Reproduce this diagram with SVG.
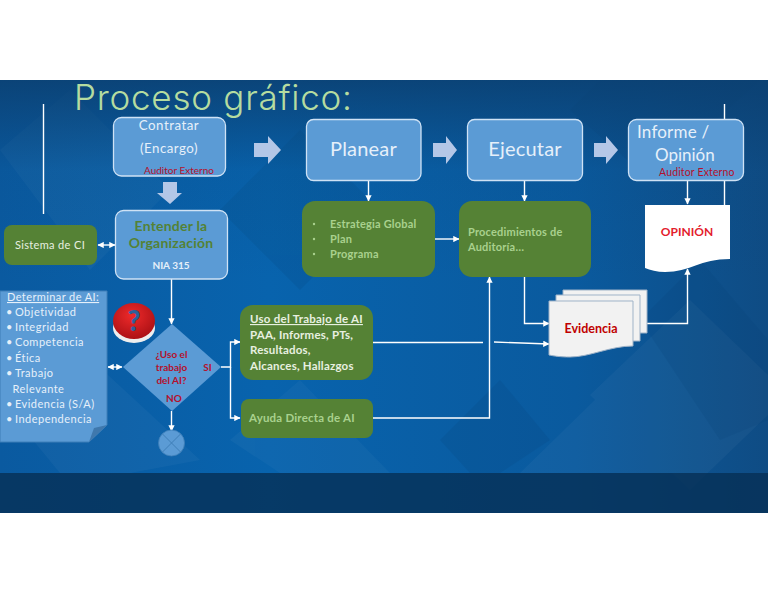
<svg xmlns="http://www.w3.org/2000/svg" width="768" height="594" viewBox="0 0 768 594">
<style>
text{font-family:Lato,"Open Sans","Liberation Sans",sans-serif}
.blue{fill:#5b9bd5;stroke:#cfe2f5;stroke-width:1.3}
.green{fill:#558235}
.ln{fill:none;stroke:#fff;stroke-width:1.4}
.lg{fill:#a9d18e;font-weight:700;letter-spacing:.2px}
.red{fill:#b5102c}
.arr{fill:#b4c7e7}
.wb{fill:#e8f0e0;font-weight:700;font-size:11.5px;letter-spacing:.2px}
.sm{fill:#e6f0fa;font-size:13.3px;letter-spacing:.5px}
</style>
<defs>
<linearGradient id="bg" x1="0" y1="0" x2="1" y2="0">
<stop offset="0" stop-color="#0a5aa0"/><stop offset=".35" stop-color="#0863ad"/><stop offset=".75" stop-color="#0a5a9e"/><stop offset="1" stop-color="#0f4c84"/>
</linearGradient>
<linearGradient id="top" x1="0" y1="0" x2="0" y2="1">
<stop offset="0" stop-color="#0b3f70" stop-opacity=".85"/><stop offset=".45" stop-color="#0b3f70" stop-opacity=".1"/><stop offset="1" stop-color="#0b3f70" stop-opacity="0"/>
</linearGradient>
<radialGradient id="btn" cx=".45" cy=".35" r=".7"><stop offset="0" stop-color="#ee2a2a"/><stop offset="1" stop-color="#a80f14"/></radialGradient>
<marker id="a" viewBox="0 0 6 6" refX="5.5" refY="3" markerWidth="4.5" markerHeight="4.5" orient="auto-start-reverse"><path d="M0 0L6 3L0 6z" fill="#fff"/></marker>
</defs>
<rect width="768" height="594" fill="#fff"/>
<rect y="80" width="768" height="433" fill="url(#bg)"/>
<g fill="#fff" opacity=".03">
<polygon points="590,395 690,300 768,375 768,415 690,490"/>
<polygon points="0,400 70,340 200,460 130,473 60,473"/>
<polygon points="230,440 300,380 390,473 280,473"/>
<polygon points="520,473 600,395 680,473"/>
<polygon points="0,150 70,90 170,190 90,270"/>
</g>
<g fill="#063d72" opacity=".14">
<polygon points="570,110 650,180 760,80 600,80"/>
<polygon points="300,130 380,210 300,290 220,210"/>
<polygon points="640,320 700,260 768,340 768,420 720,440"/>
<polygon points="440,440 500,380 550,440 500,473 470,473"/>
</g>
<rect y="80" width="768" height="200" fill="url(#top)"/>
<rect y="473" width="768" height="40" fill="#062f55" opacity=".8"/>
<text id="title" x="74" y="110" font-size="35" fill="#b5dca0" style="font-family:Inter,Lato,sans-serif;font-weight:300" textLength="278" lengthAdjust="spacing">Proceso gráfico:</text>

<g id="connectors">
<line class="ln" x1="43.500" y1="104" x2="43.500" y2="214" stroke-width="2"/>
<line class="ln" x1="724.500" y1="104" x2="724.500" y2="119"/>
<line class="ln" x1="724.500" y1="180" x2="724.500" y2="205"/>
<line class="ln" x1="98" y1="245" x2="115" y2="245" marker-start="url(#a)" marker-end="url(#a)"/>
<line class="ln" x1="171.500" y1="279" x2="171.500" y2="324" marker-end="url(#a)"/>
<line class="ln" x1="108" y1="367" x2="122" y2="367" marker-start="url(#a)" marker-end="url(#a)"/>
<line class="ln" x1="171.500" y1="411" x2="171.500" y2="431" marker-end="url(#a)"/>
<path class="ln" d="M221 367H230.500V342H240" marker-end="url(#a)"/>
<path class="ln" d="M230.500 367V418H240" marker-end="url(#a)"/>
<line class="ln" x1="368.500" y1="180" x2="368.500" y2="201" marker-end="url(#a)"/>
<line class="ln" x1="524.500" y1="180" x2="524.500" y2="201" marker-end="url(#a)"/>
<line class="ln" x1="687.500" y1="180" x2="687.500" y2="204" marker-end="url(#a)"/>
<line class="ln" x1="435" y1="239" x2="459" y2="239" marker-end="url(#a)"/>
<path class="ln" d="M373 342.500H483" stroke-width="1"/>
<path class="ln" d="M494 342L549 344" marker-end="url(#a)"/>
<path class="ln" d="M373 418H489.500V277" marker-end="url(#a)"/>
<path class="ln" d="M524.500 277V323.500H549" marker-end="url(#a)"/>
<path class="ln" d="M647 323.500H687.500V269" marker-end="url(#a)"/>
</g>

<g id="flow-arrows" class="arr">
<polygon points="254,143 268,143 268,136 281,150 268,164 268,157 254,157"/>
<polygon points="433,143 446,143 446,136 457,150 446,164 446,157 433,157"/>
<polygon points="594,143 606,143 606,136 618,150 606,164 606,157 594,157"/>
<polygon points="163,182 177,182 177,193 182,193 170,204 157,193 163,193"/>
</g>

<g id="contratar">
<rect class="blue" x="113.500" y="117.500" width="112" height="58.500" rx="8"/>
<text class="sm" x="169" y="130" text-anchor="middle">Contratar</text>
<text class="sm" x="169" y="153" text-anchor="middle">(Encargo)</text>
<text class="red" x="179" y="174" text-anchor="middle" font-size="10">Auditor Externo</text>
</g>
<g id="planear">
<rect class="blue" x="306.500" y="119.500" width="114.500" height="61" rx="7"/>
<text x="363.500" y="156" text-anchor="middle" font-size="20" fill="#e6f0fa" letter-spacing=".2">Planear</text>
</g>
<g id="ejecutar">
<rect class="blue" x="467.500" y="119.500" width="115" height="61" rx="7"/>
<text x="525" y="156" text-anchor="middle" font-size="20" fill="#e6f0fa" letter-spacing=".2">Ejecutar</text>
</g>
<g id="informe">
<rect class="blue" x="628.500" y="119.500" width="115" height="61" rx="8"/>
<text x="637" y="138" font-size="17" fill="#e6f0fa" letter-spacing=".2">Informe /</text>
<text x="655" y="161" font-size="17" fill="#e6f0fa">Opinión</text>
<text class="red" x="659" y="176" font-size="10.500" letter-spacing=".15">Auditor Externo</text>
</g>
<g id="entender">
<rect class="blue" x="115.500" y="210.500" width="112" height="68.500" rx="8"/>
<text x="171" y="231" text-anchor="middle" font-size="14" font-weight="700" fill="#548235" letter-spacing=".2">Entender la</text>
<text x="171" y="248" text-anchor="middle" font-size="14" font-weight="700" fill="#548235" letter-spacing=".2">Organización</text>
<text x="171" y="269" text-anchor="middle" font-size="10" font-weight="700" fill="#e6f0fa">NIA 315</text>
</g>
<g id="sistema">
<rect class="green" x="4" y="225" width="93" height="40" rx="8"/>
<text x="50" y="249" text-anchor="middle" font-size="11" fill="#e8f0e0" letter-spacing=".35">Sistema de CI</text>
</g>
<g id="estrategia">
<rect class="green" x="302" y="201" width="133" height="76" rx="13"/>
<circle cx="314" cy="224" r="1.200" fill="#a9d18e"/><circle cx="314" cy="239" r="1.200" fill="#a9d18e"/><circle cx="314" cy="254" r="1.200" fill="#a9d18e"/>
<text class="lg" x="330" y="228" font-size="11">Estrategia Global</text>
<text class="lg" x="330" y="243" font-size="11">Plan</text>
<text class="lg" x="330" y="258" font-size="11">Programa</text>
</g>
<g id="procedimientos">
<rect class="green" x="459" y="201" width="132" height="76" rx="13"/>
<text class="lg" x="468" y="236" font-size="11">Procedimientos de</text>
<text class="lg" x="468" y="251" font-size="11">Auditoría…</text>
</g>
<g id="opinion">
<path d="M645 205H730V259C700 259 690 272 665 272C657 272 650 270 645 268Z" fill="#fff"/>
<text x="687" y="236" text-anchor="middle" font-size="12" font-weight="700" fill="#e3202c">OPINIÓN</text>
</g>
<g id="evidencia">
<path d="M563 290H647V333H563Z" fill="#f2f2f2" stroke="#9fb3c8"/>
<path d="M556 295H640V341H556Z" fill="#f2f2f2" stroke="#9fb3c8"/>
<path d="M549 301H633V346C610 346 590 357 570 357C560 357 554 356 549 355Z" fill="#f2f2f2" stroke="#9fb3c8"/>
<text x="591" y="333" text-anchor="middle" font-size="12.500" font-weight="700" fill="#c00000">Evidencia</text>
</g>
<g id="uso">
<rect class="green" x="240" y="305" width="133" height="75" rx="13"/>
<text x="250" y="323" font-size="11.500" font-weight="700" fill="#e8f0e0" text-decoration="underline" letter-spacing=".25">Uso del Trabajo de AI</text>
<text class="wb" x="250" y="339">PAA, Informes, PTs,</text>
<text class="wb" x="250" y="354">Resultados,</text>
<text class="wb" x="250" y="370">Alcances, Hallazgos</text>
</g>
<g id="ayuda">
<rect class="green" x="241" y="399" width="132" height="39" rx="8"/>
<text class="lg" x="249" y="422" font-size="11.500">Ayuda Directa de AI</text>
</g>
<g id="determinar">
<path d="M0 291H107V425L89 442H0Z" fill="#5b9bd5" stroke="#3f7fb8"/>
<path d="M107 425L94 428L89 442Z" fill="#3f78ad"/>
<text x="7" y="301" font-size="11" fill="#e6f0fa" text-decoration="underline" letter-spacing=".4">Determinar de AI:</text>
<g font-size="11" fill="#e6f0fa" letter-spacing=".5">
<text x="6" y="316">•<tspan dx="2">Objetividad</tspan></text>
<text x="6" y="331">•<tspan dx="2">Integridad</tspan></text>
<text x="6" y="346">•<tspan dx="2">Competencia</tspan></text>
<text x="6" y="362">•<tspan dx="2">Ética</tspan></text>
<text x="6" y="377">•<tspan dx="2">Trabajo</tspan></text>
<text x="12.500" y="393">Relevante</text>
<text x="6" y="408">•<tspan dx="2">Evidencia (S/A)</tspan></text>
<text x="6" y="423">•<tspan dx="2">Independencia</tspan></text>
</g>
</g>
<g id="button">
<ellipse cx="134" cy="328" rx="21" ry="15" fill="#eee"/>
<ellipse cx="134" cy="321" rx="21" ry="18" fill="url(#btn)"/>
<text x="134" y="331" text-anchor="middle" font-size="28" font-weight="900" fill="#2f5f9a">?</text>
</g>
<g id="decision">
<polygon points="172,324 221,367 172,411 123,367" fill="#5b9bd5"/>
<g font-size="10" class="red" font-weight="700" text-anchor="middle">
<text x="171.500" y="358">¿Uso el</text>
<text x="171.500" y="371">trabajo</text>
<text x="171.500" y="384">del AI?</text>
<text x="207.500" y="371">SI</text>
<text x="174" y="402">NO</text>
</g>
</g>
<g id="end">
<circle cx="171.500" cy="443" r="13" fill="#5b9bd5" stroke="#3f7fb8" stroke-width=".8"/>
<path d="M162.500 434L180.500 452M180.500 434L162.500 452" stroke="#3f7fb8" stroke-width="1" fill="none"/>
</g>
</svg>
